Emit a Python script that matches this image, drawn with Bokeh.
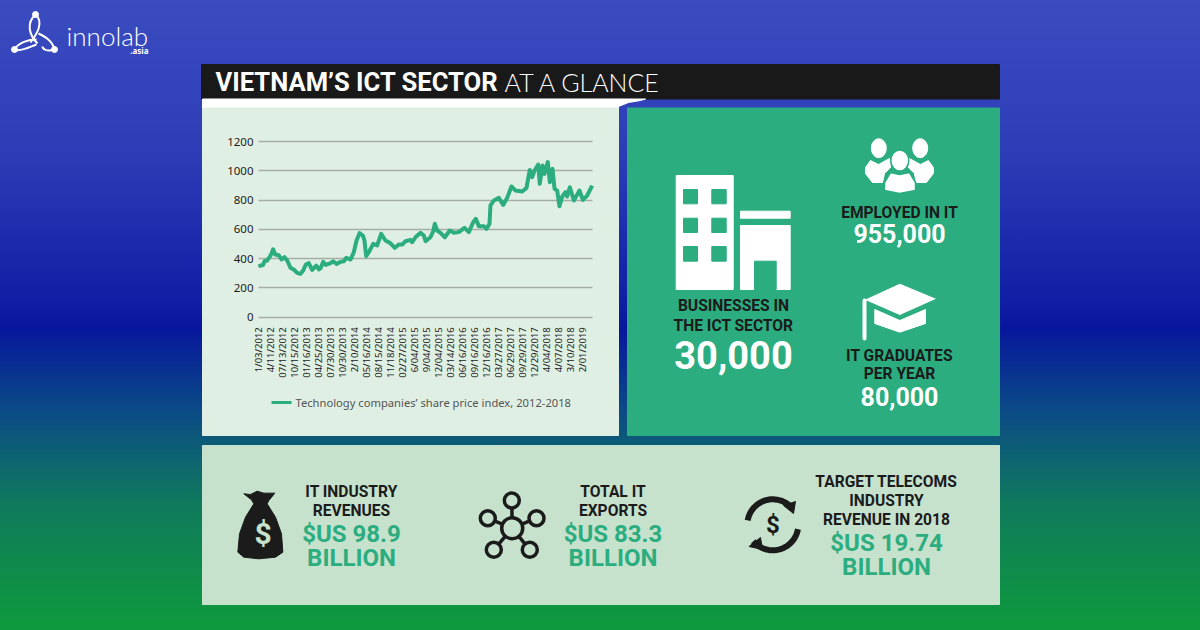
from math import pi
import numpy as np
from bokeh.core.properties import value
from bokeh.embed import file_html
from bokeh.models import (FixedTicker, GlobalInlineStyleSheet, Grid, LinearAxis, Range1d)
from bokeh.plotting import figure
from bokeh.resources import INLINE

# share price index (position is in x tick units)
date_labels = ['1/03/2012', '4/11/2012', '07/13/2012', '10/15/2012', '01/16/2013', '04/25/2013',
               '07/30/2013', '10/30/2013', '2/10/2014', '05/16/2014', '08/15/2014', '11/18/2014',
               '02/27/2015', '6/04/2015', '9/04/2015', '12/04/2015', '03/14/2016', '06/16/2016',
               '09/16/2016', '12/16/2016', '03/27/2017', '06/29/2017', '09/29/2017', '12/29/2017',
               '4/04/2018', '4/07/2018', '3/10/2018', '2/01/2019']
index_pos = [0.0, 0.17, 0.39, 0.5, 0.72, 0.92, 1.08, 1.22, 1.39, 1.69, 1.92, 2.17, 2.39, 2.67, 2.94,
             3.22, 3.5, 3.72, 3.94, 4.19, 4.47, 4.81, 5.03, 5.17, 5.39, 5.61, 6.0, 6.22, 6.5, 6.83,
             7.11, 7.31, 7.67, 7.94, 8.17, 8.42, 8.69, 8.83, 8.97, 9.19, 9.56, 9.89, 10.22, 10.58,
             11.0, 11.36, 11.69, 11.97, 12.25, 12.67, 12.81, 13.08, 13.5, 13.78, 13.92, 14.33, 14.56,
             14.69, 14.89, 15.17, 15.53, 15.94, 16.28, 16.69, 17.17, 17.53, 17.89, 18.11, 18.36,
             18.78, 19.0, 19.25, 19.33, 19.61, 20.03, 20.39, 20.72, 21.08, 21.42, 21.97, 22.33,
             22.61, 22.81, 23.0, 23.31, 23.44, 23.67, 23.83, 24.11, 24.28, 24.5, 24.67, 24.89,
             25.08, 25.31, 25.58, 25.72, 25.94, 26.28, 26.75, 27.03, 27.39, 27.81]
index_values = [346, 353, 357, 382, 387, 410, 433, 464, 428, 423, 394, 410, 387, 337, 326, 303, 296,
                319, 360, 369, 323, 353, 326, 335, 378, 357, 369, 382, 364, 378, 382, 405, 394, 444,
                524, 574, 558, 524, 417, 444, 501, 490, 569, 524, 505, 474, 496, 496, 519, 528, 512,
                546, 576, 558, 519, 546, 587, 638, 592, 576, 546, 592, 576, 581, 610, 581, 649, 672,
                622, 622, 603, 638, 763, 797, 815, 767, 815, 893, 865, 858, 883, 1006, 956, 1002,
                1043, 911, 1036, 979, 1059, 922, 1013, 877, 865, 758, 824, 854, 824, 888, 797, 865,
                801, 831, 899]
y_ticks = [0, 200, 400, 600, 800, 1000, 1200]
legend_label = "Technology companies\u2019 share price index, 2012-2018"

GREEN = '#2bad80'
DARK = '#1b1b1b'
HEAD = 'Roboto'
THIN = 'Lato Light'
SMALL = 15.6

# the page template has no margin, so the figure takes the whole window
p = figure(width=1200, height=630, output_backend="svg", toolbar_location=None,
           x_range=Range1d(0, 1200), y_range=Range1d(630, 0), min_border=0,
           x_axis_type=None, y_axis_type=None)
p.grid.visible = False
p.outline_line_color = None
p.background_fill_alpha = 0
p.border_fill_alpha = 0

# page gradient, behind the figure
p.stylesheets = [GlobalInlineStyleSheet(css="""html {height: 100%; overflow: hidden; background: linear-gradient(180deg,
    #3b4cc0 0%, #2c3cb6 25%, #0f1ea4 48%, #07169c 52%, #0b4a86 65%, #0f7a5c 80%, #0e9a3c 100%);}
    body {background: transparent;}""")]

# panels
p.quad(left=[201], right=[999], top=[64], bottom=[98.5], color='#191919', level='image')
p.patch([202, 645, 640, 628, 618, 618, 202], [98.5, 98.5, 100, 102, 106, 108, 108], color='white', level='image')
p.quad(left=[202], right=[618], top=[107.5], bottom=[435], color='#e0efe3', level='image')
p.quad(left=[627], right=[999], top=[107.5], bottom=[435], color=GREEN, level='image')
p.quad(left=[202], right=[999], top=[445], bottom=[604], color='#c6e1cc', level='image')

# the chart gets its own scales inside the first panel
px_per_tick = 12.0
x0_px = 258.0
y0_px = 316.7
px_per_val = 175.7 / 1200
p.extra_x_ranges['tick'] = Range1d((0 - x0_px) / px_per_tick, (1200 - x0_px) / px_per_tick)
p.extra_y_ranges['idx'] = Range1d((y0_px - 630) / px_per_val, (y0_px - 0) / px_per_val)

grid = Grid(dimension=1, x_range_name='tick', y_range_name='idx', ticker=FixedTicker(ticks=y_ticks),
            cross_bounds=(0, 27.83), grid_line_color='#a3aea6', grid_line_width=1.5)
p.add_layout(grid)

yaxis = LinearAxis(x_range_name='tick', y_range_name='idx', fixed_location=0,
                   ticker=FixedTicker(ticks=y_ticks), axis_line_color=None, major_tick_line_color=None,
                   major_tick_out=0, minor_tick_line_color=None, major_label_standoff=5,
                   major_label_text_font='Noto Sans', major_label_text_font_size='11.5px',
                   major_label_text_color='#1c1c1c')
p.add_layout(yaxis, 'left')

xaxis = LinearAxis(x_range_name='tick', y_range_name='idx', fixed_location=0,
                   ticker=FixedTicker(ticks=list(range(len(date_labels)))),
                   major_label_overrides={i: s for i, s in enumerate(date_labels)},
                   major_label_orientation=pi / 2, axis_line_color=None, major_tick_line_color=None,
                   major_tick_out=0, minor_tick_line_color=None, major_label_standoff=10,
                   major_label_text_font='Noto Sans', major_label_text_font_size='9.5px',
                   major_label_text_color='#1c1c1c')
p.add_layout(xaxis, 'below')

p.line(index_pos, index_values, x_range_name='tick', y_range_name='idx', color=GREEN, line_width=4,
       line_join='round')

# legend
p.line([271, 291], [402, 402], color=GREEN, line_width=3)
p.text([295], [402], text=[legend_label], text_font=value('Noto Sans'), text_font_size='11.2px',
       text_color='#555555', text_baseline='middle')


def label(x, y, s, size, color=DARK, font=HEAD, style='bold', align='center'):
    p.text([x], [y], text=[s], text_font=value(font), text_font_size=f'{size}px', text_font_style=style,
           text_color=color, text_align=align, text_baseline='middle')


# header and logo
label(215, 81.5, "VIETNAM\u2019S ICT SECTOR", 25.6, 'white', align='left')
label(504, 81.5, "AT A GLANCE", 25, 'white', style='normal', font=THIN, align='left')
label(66, 35, "innolab", 26, 'white', font=THIN, style='normal', align='left')
label(148, 50, ".asia", 8, 'white', font='Noto Sans', align='right')
p.bezier(x0=[35, 35, 14, 14, 54, 54], y0=[14, 14, 49, 49, 49, 49],
         x1=[37, 30, 36, 36, 38, 42], y1=[43, 42, 39, 44, 33, 46],
         cx0=[26, 44, 18, 20, 52, 46], cy0=[22, 22, 42, 52, 40, 52],
         cx1=[28, 36, 28, 30, 44, 42], cy1=[34, 34, 39, 46, 36, 48],
         line_color='white', line_width=2)
p.circle([35, 14, 54], [14, 49, 49], radius=3, color='white')

# building icon
p.quad(left=[675.7, 740, 740], right=[732.7, 789.7, 789.7], top=[175, 210.7, 225], bottom=[289, 217.7, 289], color='white')
p.quad(left=[683, 711.3] * 3 + [754], right=[697, 725.7] * 3 + [775.7],
       top=[189, 189, 217.7, 217.7, 246, 246, 260.7], bottom=[203.3, 203.3, 232, 232, 260.7, 260.7, 289], color=GREEN)

# people icon
for dx in (0, 41.3):
    xs = np.array([865, 870, 878, 889, 890, 884, 882, 872, 865]) + dx
    if dx:
        xs = 2 * (878.3 + dx) - xs
    p.patch(xs, [167, 160, 164, 158, 167, 173, 182, 182, 173], color='white')
p.ellipse([878.3, 919.7], [147.7, 147.7], width=15, height=19, color='white')
p.patch([884, 890, 899, 909, 915, 915, 899, 884], [182, 172, 174, 172, 182, 190, 193, 190], color='white',
        line_color=GREEN, line_width=1.5)
p.ellipse([899.3], [160], width=18, height=21, color='white', line_color=GREEN, line_width=1.5)

# graduation cap icon
p.patch([874.3, 899.3, 925, 925, 899.3, 874.3], [309, 320, 309, 323, 331.7, 323], color='white')
p.patch([863.3, 899.3, 936.7, 899.3], [299.3, 282.7, 298.3, 315], color='white', line_color=GREEN, line_width=1)
p.line([864, 864], [300, 338], color='white', line_width=4, line_cap='round')

# panel two texts
label(733, 305, "BUSINESSES IN", SMALL)
label(733, 325, "THE ICT SECTOR", SMALL)
label(733, 354, "30,000", 38, 'white')
label(899, 212, "EMPLOYED IN IT", SMALL)
label(899, 233, "955,000", 25, 'white')
label(899, 355, "IT GRADUATES", SMALL)
label(899, 373, "PER YEAR", SMALL)
label(899, 396, "80,000", 25, 'white')

# money bag
bag_x = np.array([55, 75, 95, 115, 148, 130, 125, 150, 168, 172, 150, 100, 55, 37, 42, 60, 85, 78]) / 3 + 225
bag_y = np.array([70, 72, 62, 68, 68, 90, 100, 140, 190, 245, 260, 265, 260, 245, 190, 140, 100, 88]) / 3 + 470
p.patch(bag_x, bag_y, color=DARK)
label(262.7, 532.5, "$", 30, '#c6e1cc')

# network icon
hub_x, hub_y = 511.7, 527.7
sat_x = [511.3, 487.3, 536, 493.3, 529.3]
sat_y = [500, 517.7, 517.7, 549.3, 549.3]
p.segment([hub_x] * 5, [hub_y] * 5, sat_x, sat_y, color=DARK, line_width=3.5)
p.circle([hub_x], [hub_y], radius=10.5, fill_color='#c6e1cc', line_color=DARK, line_width=3.5)
p.circle(sat_x, sat_y, radius=7.5, fill_color='#c6e1cc', line_color=DARK, line_width=3.5)

# circular arrows icon
arc_x, arc_y, arc_r = 772.3, 524.3, 25.5
t1 = np.radians(np.linspace(190, 320, 30))
t2 = np.radians(np.linspace(10, 140, 30))
p.line(arc_x + arc_r * np.cos(t1), arc_y + arc_r * np.sin(t1), color=DARK, line_width=6)
p.line(arc_x + arc_r * np.cos(t2), arc_y + arc_r * np.sin(t2), color=DARK, line_width=6)
p.patch([795, 793, 783], [501, 513, 505], color=DARK)
p.patch([748.5, 760, 762], [546, 537, 549], color=DARK)
label(772.3, 524.3, "$", 24)

# bottom panel texts
label(351, 491, "IT INDUSTRY", SMALL)
label(351, 510, "REVENUES", SMALL)
label(351, 533, "$US 98.9", 24, GREEN)
label(351, 557, "BILLION", 24, GREEN)
label(612.5, 491, "TOTAL IT", SMALL)
label(612.5, 510, "EXPORTS", SMALL)
label(612.5, 533, "$US 83.3", 24, GREEN)
label(612.5, 557, "BILLION", 24, GREEN)
label(886, 481, "TARGET TELECOMS", SMALL)
label(886, 500, "INDUSTRY", SMALL)
label(886, 519, "REVENUE IN 2018", SMALL)
label(886, 542, "$US 19.74", 24, GREEN)
label(886, 566, "BILLION", 24, GREEN)

open("out.html", "w").write(file_html(p, INLINE))
